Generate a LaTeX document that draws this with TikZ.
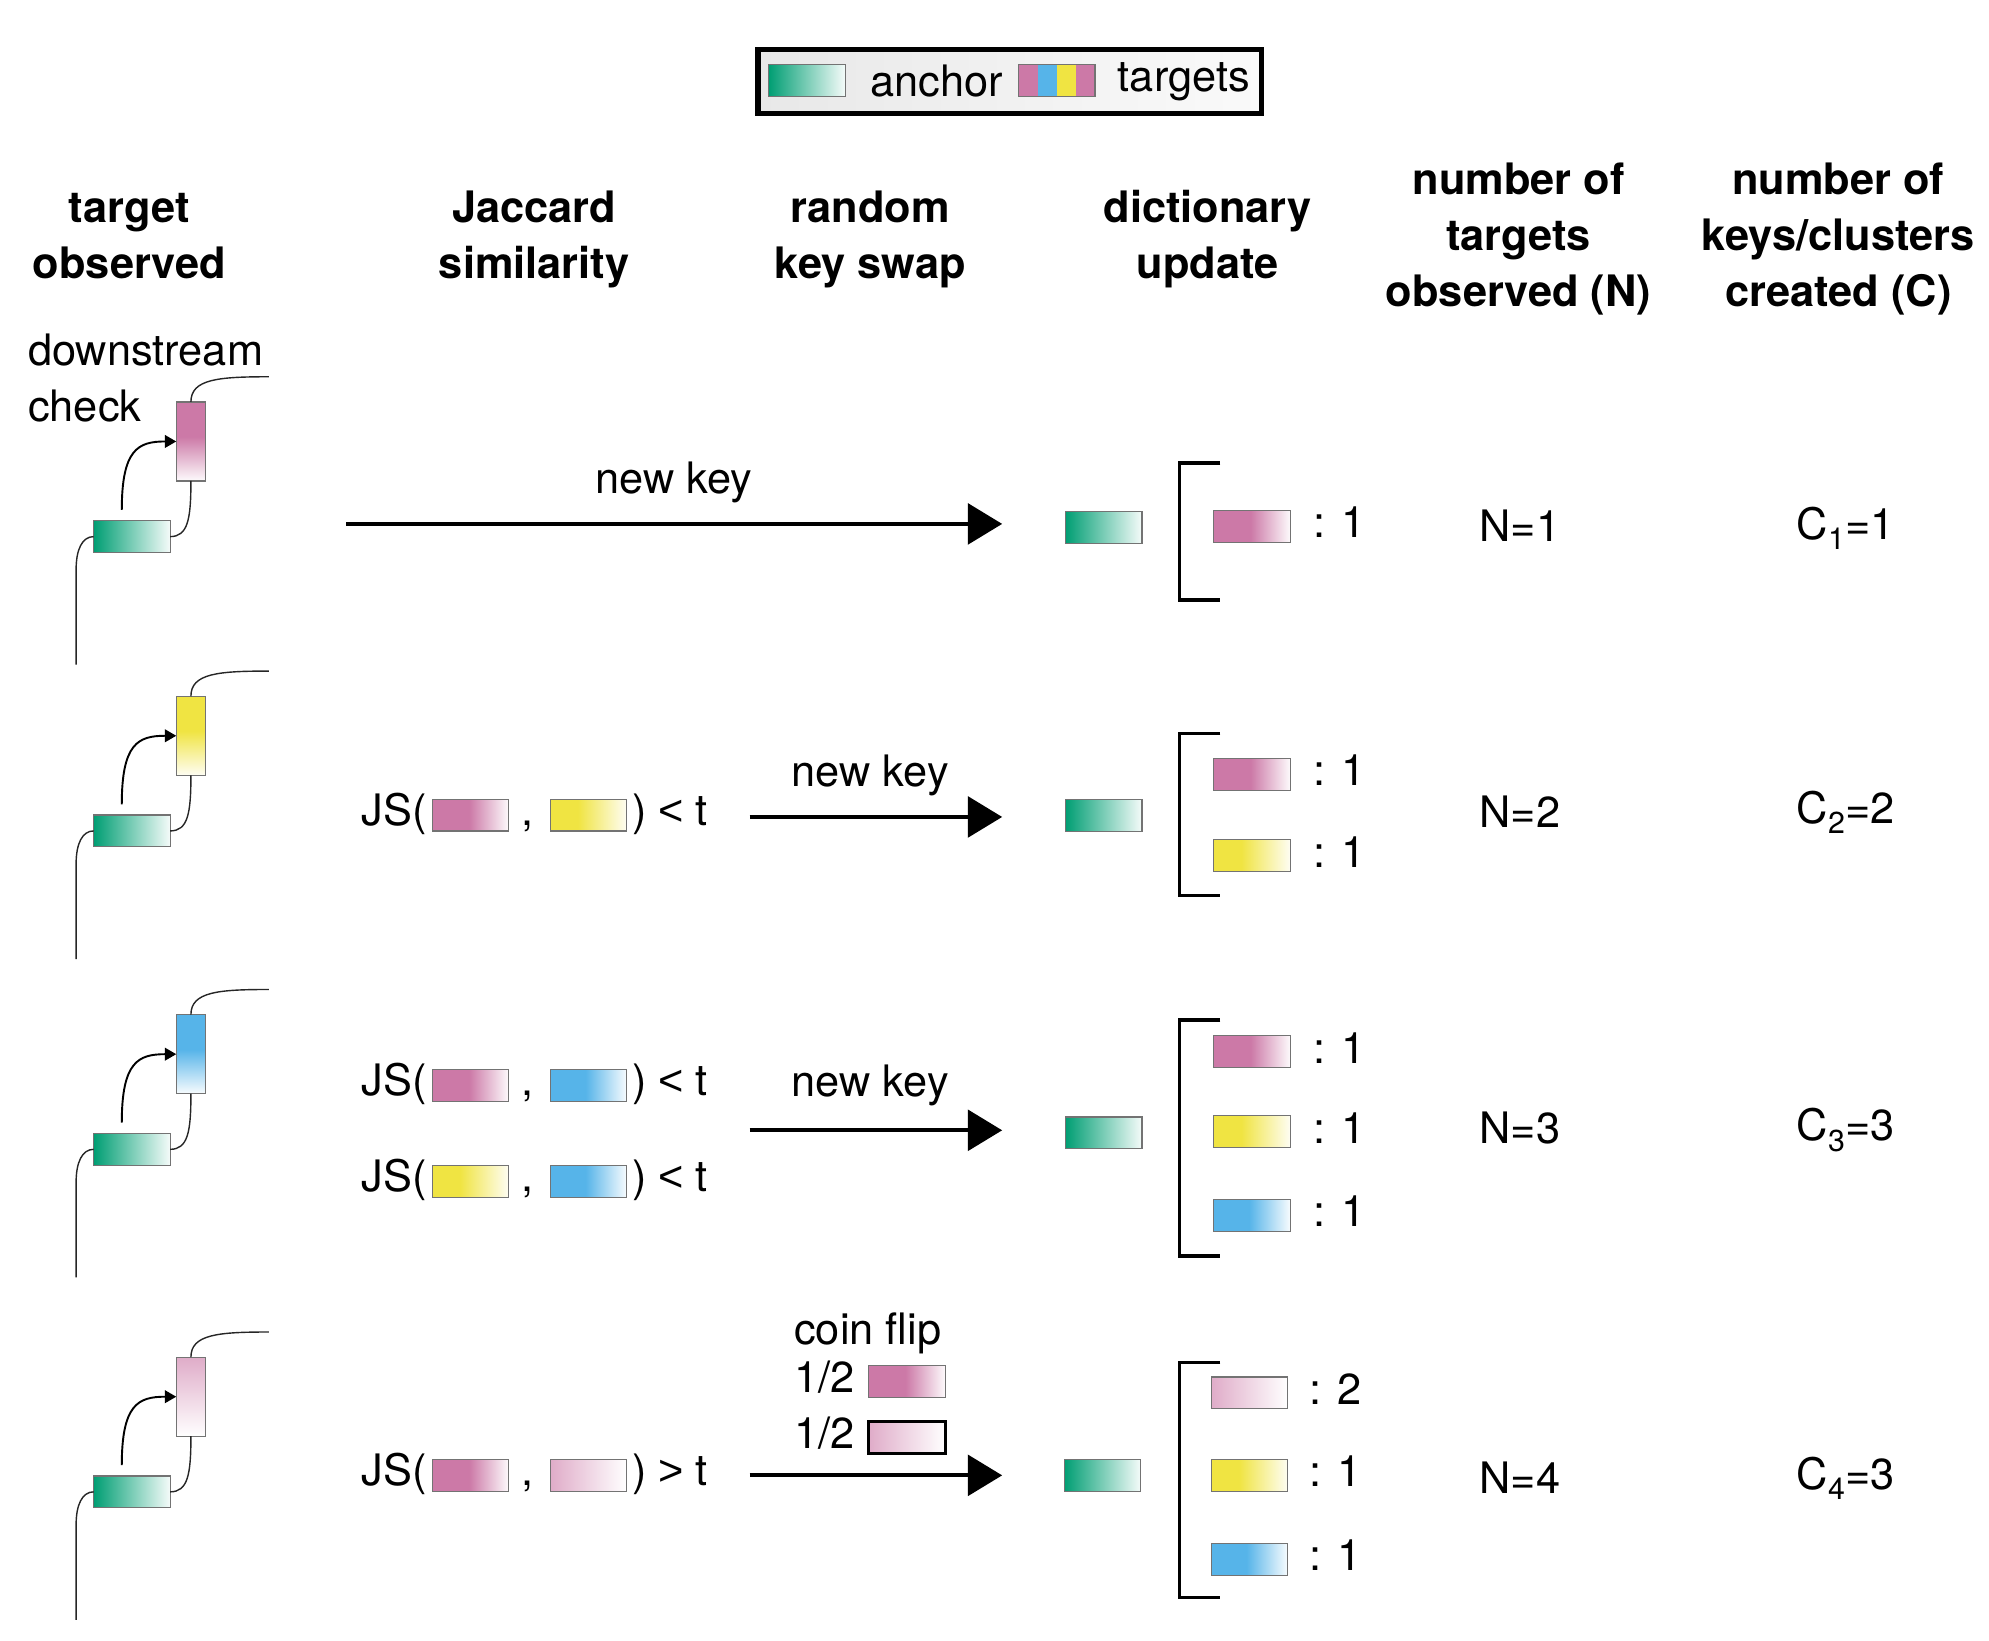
\documentclass[tikz,border=0pt]{standalone}
\usepackage{fontspec}
\setmainfont{TeX Gyre Heros}
\newfontfamily\lsans{Liberation Sans}
\usetikzlibrary{arrows.meta}
\definecolor{ancG}{HTML}{009E73}
\definecolor{tPk}{HTML}{CC79A7}
\definecolor{tBl}{HTML}{56B4E9}
\definecolor{tYe}{HTML}{F0E442}
\colorlet{tLp}{tPk!62}
\colorlet{ancW}{ancG!4}
\colorlet{pkW}{tPk!3}
\colorlet{blW}{tBl!4}
\colorlet{yeW}{tYe!6}
\pgfdeclarehorizontalshading{pkh}{100bp}{color(0bp)=(tPk); color(49bp)=(tPk); color(75bp)=(pkW); color(100bp)=(pkW)}
\pgfdeclarehorizontalshading{blh}{100bp}{color(0bp)=(tBl); color(48bp)=(tBl); color(75bp)=(blW); color(100bp)=(blW)}
\pgfdeclarehorizontalshading{yeh}{100bp}{color(0bp)=(tYe); color(43bp)=(tYe); color(75bp)=(yeW); color(100bp)=(yeW)}
\pgfdeclareverticalshading{pkv}{100bp}{color(0bp)=(pkW); color(25bp)=(pkW); color(53bp)=(tPk); color(100bp)=(tPk)}
\pgfdeclareverticalshading{blv}{100bp}{color(0bp)=(blW); color(25bp)=(blW); color(53bp)=(tBl); color(100bp)=(tBl)}
\pgfdeclareverticalshading{yev}{100bp}{color(0bp)=(yeW); color(25bp)=(yeW); color(53bp)=(tYe); color(100bp)=(tYe)}
\begin{document}
\begin{tikzpicture}[x=1pt,y=-1pt,
  txt/.style={inner sep=0pt, font=\fontsize{34}{44}\selectfont},
  hdr/.style={inner sep=0pt, align=center, anchor=north, font=\bfseries\fontsize{34}{44}\selectfont},
  box/.style={draw=black!55, line width=0.9pt, minimum width=60pt, minimum height=25pt, inner sep=0pt, outer sep=0pt},
  ancbox/.style={box, left color=ancG, right color=ancW},
  pkbox/.style={box, shade, shading=pkh},
  blbox/.style={box, shade, shading=blh},
  yebox/.style={box, shade, shading=yeh},
  lpbox/.style={box, left color=tLp, right color=white},
  vbx/.style={draw=black!55, line width=0.9pt, minimum width=23pt, minimum height=62pt, inner sep=0pt, outer sep=0pt},
  pkvbox/.style={vbx, shade, shading=pkv},
  blvbox/.style={vbx, shade, shading=blv},
  yevbox/.style={vbx, shade, shading=yev},
  lpvbox/.style={vbx, top color=tLp, bottom color=white},
  conn/.style={line width=1.1pt, black!85},
  smallarrow/.style={line width=1.5pt, -{Triangle[length=9pt,width=10pt]}},
  bigarrow/.style={line width=3pt, -{Triangle[length=27pt,width=32pt]}},
  brk/.style={line width=2.6pt}
]
\useasboundingbox (0,0) rectangle (1560,1286.3);
\begin{scope}[scale=0.995]
% legend
\node[draw, line width=4pt, minimum width=395pt, minimum height=50pt, left color=gray!18, right color=gray!4, inner sep=0pt] (leg) at (796,64) {};
\node[ancbox] (legA) at (636,63.5) {};
\node[txt, anchor=base west] (legAt) at (686,76) {anchor};
\fill[tPk] (803,51) rectangle (818,76);
\fill[tBl] (818,51) rectangle (833,76);
\fill[tYe] (833,51) rectangle (848,76);
\fill[tPk] (848,51) rectangle (863,76);
\node[box] (legT) at (833,63.5) {};
\node[txt, anchor=base west] (legTt) at (881,72) {targets};

% headers
\node[hdr] (h1) at (102,152) {target\\observed};
\node[hdr] (h2) at (421,150) {Jaccard\\similarity};
\node[hdr] (h3) at (686,150) {random\\key swap};
\node[hdr] (h4) at (952,150) {dictionary\\update};
\node[hdr] (h5) at (1197,128) {number of\\targets\\observed (N)};
\node[hdr] (h6) at (1449,128) {number of\\keys/clusters\\created (C)};
\node[txt, align=left, anchor=north west] (ds) at (22,263) {downstream\\check};

% left column
\foreach \r/\gy/\vs in {1/423/pkvbox,2/655/yevbox,3/906/blvbox,4/1176/lpvbox}{
  \node[ancbox] (g\r) at (104,\gy) {};
  \node[\vs] (p\r) at (150.5,\gy-75) {};
  \coordinate (t\r) at (212,\gy-126);
  \coordinate (b\r) at (60,\gy+101);
  \coordinate (bk\r) at (60,\gy+26);
  \coordinate (a\r) at (96,\gy-21);
  \draw[conn] (p\r.north) .. controls +(0,-18) and +(-40,0) .. (t\r);
  \draw[conn] (g\r.east) .. controls +(14,0) and +(0,30) .. (p\r.south);
  \draw[conn] (b\r) -- (bk\r) .. controls +(0,-16) and +(-9,0) .. (g\r.west);
  \draw[smallarrow] (a\r) .. controls +(0,-48) and +(-30,0) .. (p\r.west);
}

% row 1
\node[txt, anchor=base] (nk1) at (531,389) {new key};
\coordinate (s1) at (273,413);
\coordinate (e1) at (790,413);
\draw[bigarrow] (s1) -- (e1);
\node[ancbox] (d1) at (870,416) {};
\draw[brk] (962,365) -- (930,365) -- (930,473) -- (962,473);
\node[pkbox] (k11) at (987,415) {};
\node[txt, anchor=base west] (c11) at (1035,424) {: 1};
\node[txt, anchor=base] (n1) at (1198,427) {N=1};
\node[txt, anchor=base] (cc1) at (1455,425) {C\textsubscript{1}=1};

% row 2
\node[txt, anchor=base west] (j2a) at (285,650.5) {JS(};
\node[pkbox] (j2b) at (371,642.5) {};
\node[txt, anchor=base] (j2c) at (416,650.5) {,};
\node[yebox] (j2d) at (464,642.5) {};
\node[txt, anchor=base west] (j2e) at (498,650.5) {) {\lsans <} t};
\node[txt, anchor=base] (nk2) at (686,620) {new key};
\coordinate (s2) at (591,644);
\coordinate (e2) at (790,644);
\draw[bigarrow] (s2) -- (e2);
\node[ancbox] (d2) at (870,643) {};
\draw[brk] (962,578) -- (930,578) -- (930,706) -- (962,706);
\node[pkbox] (k21) at (987,610.5) {};
\node[txt, anchor=base west] (c21) at (1035,619.5) {: 1};
\node[yebox] (k22) at (987,674.5) {};
\node[txt, anchor=base west] (c22) at (1035,683.5) {: 1};
\node[txt, anchor=base] (n2) at (1198,652) {N=2};
\node[txt, anchor=base] (cc2) at (1455,649) {C\textsubscript{2}=2};

% row 3
\node[txt, anchor=base west] (j3a) at (285,863.5) {JS(};
\node[pkbox] (j3b) at (371,855.5) {};
\node[txt, anchor=base] (j3c) at (416,863.5) {,};
\node[blbox] (j3d) at (464,855.5) {};
\node[txt, anchor=base west] (j3e) at (498,863.5) {) {\lsans <} t};
\node[txt, anchor=base west] (j3f) at (285,939.5) {JS(};
\node[yebox] (j3g) at (371,931.5) {};
\node[txt, anchor=base] (j3h) at (416,939.5) {,};
\node[blbox] (j3i) at (464,931.5) {};
\node[txt, anchor=base west] (j3j) at (498,939.5) {) {\lsans <} t};
\node[txt, anchor=base] (nk3) at (686,864) {new key};
\coordinate (s3) at (591,891);
\coordinate (e3) at (790,891);
\draw[bigarrow] (s3) -- (e3);
\node[ancbox] (d3) at (870,893) {};
\draw[brk] (962,804) -- (930,804) -- (930,990) -- (962,990);
\node[pkbox] (k31) at (987,829) {};
\node[txt, anchor=base west] (c31) at (1035,838) {: 1};
\node[yebox] (k32) at (987,892) {};
\node[txt, anchor=base west] (c32) at (1035,901) {: 1};
\node[blbox] (k33) at (987,958) {};
\node[txt, anchor=base west] (c33) at (1035,967) {: 1};
\node[txt, anchor=base] (n3) at (1198,901) {N=3};
\node[txt, anchor=base] (cc3) at (1455,899) {C\textsubscript{3}=3};

% row 4
\node[txt, anchor=base west] (j4a) at (285,1171) {JS(};
\node[pkbox] (j4b) at (371,1163) {};
\node[txt, anchor=base] (j4c) at (416,1171) {,};
\node[lpbox] (j4d) at (464,1163) {};
\node[txt, anchor=base west] (j4e) at (498,1171) {) {\lsans >} t};
\node[txt, anchor=base] (cf) at (684,1060) {coin flip};
\node[txt, anchor=base west] (h41) at (626,1098) {1/2};
\node[pkbox] (cfa) at (715,1089) {};
\node[txt, anchor=base west] (h42) at (626,1142) {1/2};
\node[lpbox, draw=black, line width=2.5pt] (cfb) at (715,1133) {};
\coordinate (s4) at (591,1163);
\coordinate (e4) at (790,1163);
\draw[bigarrow] (s4) -- (e4);
\node[ancbox] (d4) at (869,1163) {};
\draw[brk] (962,1074) -- (930,1074) -- (930,1259) -- (962,1259);
\node[lpbox] (k41) at (985,1098) {};
\node[txt, anchor=base west] (c41) at (1032,1107) {: 2};
\node[yebox] (k42) at (985,1163) {};
\node[txt, anchor=base west] (c42) at (1032,1172) {: 1};
\node[blbox] (k43) at (985,1229) {};
\node[txt, anchor=base west] (c43) at (1032,1238) {: 1};
\node[txt, anchor=base] (n4) at (1198,1177) {N=4};
\node[txt, anchor=base] (cc4) at (1455,1174) {C\textsubscript{4}=3};
\end{scope}
\end{tikzpicture}
\end{document}
